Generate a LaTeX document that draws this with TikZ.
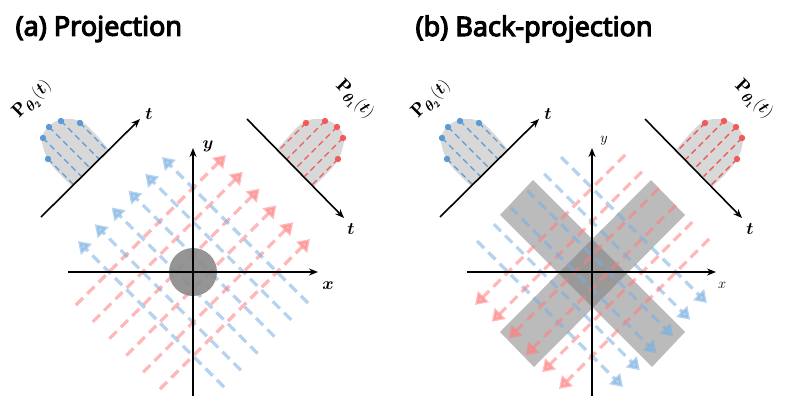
\documentclass[tikz,border=0pt]{standalone}
\usepackage{fontspec}
\usepackage{amsmath,amssymb,bm}
\newfontfamily\titlefont[FakeBold=4]{Noto Sans}
\usetikzlibrary{arrows.meta,calc}
\definecolor{rayblue}{RGB}{120,175,225}
\definecolor{rayred}{RGB}{255,125,125}
\definecolor{dotblue}{RGB}{90,155,213}
\definecolor{dotred}{RGB}{240,90,90}
\definecolor{blobgray}{RGB}{216,216,216}
\definecolor{objgray}{RGB}{140,140,140}
\definecolor{bandgray}{RGB}{120,120,120}
\tikzset{
  axisline/.style={line width=1.6pt,-{Stealth[length=9pt,width=7pt]}},
  taxis/.style={line width=1.6pt,-{Stealth[length=9pt,width=7pt]}},
  rayb/.style={rayblue,opacity=0.55,line width=3.2pt,dash pattern=on 10pt off 6pt,-{Triangle[length=12pt,width=15pt]}},
  rayr/.style={rayred,opacity=0.55,line width=3.2pt,dash pattern=on 10pt off 6pt,-{Triangle[length=12pt,width=15pt]}},
  blobdash/.style={line width=1.4pt,dash pattern=on 6pt off 4pt},
  band/.style={fill=bandgray,fill opacity=0.5},
  title/.style={font=\titlefont\fontsize{27}{30}\selectfont,anchor=west},
  plab/.style={font=\fontsize{19}{22}\selectfont,inner sep=0pt},
  alab/.style={font=\fontsize{18}{20}\selectfont},
}
\newcommand{\myblob}[1]{%
  \fill[blobgray] plot[smooth,tension=0.6] coordinates{(72,186) (50,163) (42,140) (49,126) (64,119) (82,122) (97,136) (109,150)} -- cycle;
  \foreach \a/\b/\c/\d in {49/127/90/168, 43/138/81.5/176.5, 48/159/73.5/184.5, 61/121/99/159, 80/123/107.5/150.5}{
    \draw[#1,blobdash] (\a,\b) -- (\c,\d);
    \fill[#1] (\a,\b) circle (3.2pt);
  }
}
\newcommand{\ptwotext}{$\mathbf{P}_{\bm{\theta}_{\mathbf 2}}(\bm{t})$}
\newcommand{\ponetext}{$\mathbf{P}_{\bm{\theta}_{\mathbf 1}}(\bm{t})$}
\begin{document}
\begin{tikzpicture}[x=1pt,y=-1pt]
\useasboundingbox (0,0) rectangle (789,407);
% titles
\node[title] (ta) at (12,29) {(a) Projection};
\node[title] (tb) at (412,29) {(b) Back-projection};
% ---------- panel (a) ----------
\coordinate (ca) at (193,272);
\foreach \k in {-2.5,-1.5,...,2.5}{
  \draw[rayb] ($(ca)+(\k*16.8+73,-\k*16.8+73)$) -- ($(ca)+(\k*16.8-73,-\k*16.8-73)$);
  \draw[rayr] ($(ca)+(\k*16.8-75,\k*16.8+75)$) -- ($(ca)+(\k*16.8+75,\k*16.8-75)$);
}
\fill[objgray,opacity=0.92] (ca) circle (24);
\draw[axisline] (68,272) -- (318,272);
\draw[axisline] (193,396) -- (193,148);
\node[alab] (xa) at (328,286) {$\bm{x}$};
\node[alab] (ya) at (208,146) {$\bm{y}$};
\begin{scope}
\myblob{dotblue}
\end{scope}
\draw[taxis] (41,217) -- (140,119);
\node[alab] (t1) at (149,114) {$\bm{t}$};
\begin{scope}[shift={(386,0)},xscale=-1]
\myblob{dotred}
\end{scope}
\draw[taxis] (247,119) -- (344,218);
\node[alab] (t2) at (351,229) {$\bm{t}$};
\begin{scope}[transform canvas={rotate around={45:(33,100)}}]
\node[plab] (p2) at (33,100) {\ptwotext};
\end{scope}
\begin{scope}[transform canvas={rotate around={-45:(354,100)}}]
\node[plab] (p1) at (354,100) {\ponetext};
\end{scope}
% ---------- panel (b) ----------
\coordinate (cb) at (592,272);
\fill[band] (500,215) -- (533,180) -- (685,332) -- (652,367) -- cycle;
\fill[band] (651,180) -- (685,215) -- (534,367) -- (500,332) -- cycle;
\foreach \k in {-2.5,-1.5,...,2.5}{
  \draw[rayb] ($(cb)+(\k*16.8-73,-\k*16.8-73)$) -- ($(cb)+(\k*16.8+73,-\k*16.8+73)$);
  \draw[rayr] ($(cb)+(\k*16.8+75,\k*16.8-75)$) -- ($(cb)+(\k*16.8-75,\k*16.8+75)$);
}
\draw[axisline] (467,272) -- (716,272);
\draw[axisline] (592,396) -- (592,148);
\node[font=\fontsize{15}{16}\selectfont] (xb) at (722,285) {$x$};
\node[font=\fontsize{15}{16}\selectfont] (yb) at (604,141) {$y$};
\begin{scope}[shift={(399,0)}]
\myblob{dotblue}
\draw[taxis] (41,217) -- (140,119);
\end{scope}
\node[alab] (t3) at (548,114) {$\bm{t}$};
\begin{scope}[shift={(785,0)},xscale=-1]
\myblob{dotred}
\draw[taxis] (140,119) -- (43,218);
\end{scope}
\node[alab] (t4) at (750,229) {$\bm{t}$};
\begin{scope}[transform canvas={rotate around={45:(432,100)}}]
\node[plab] (p4) at (432,100) {\ptwotext};
\end{scope}
\begin{scope}[transform canvas={rotate around={-45:(753,100)}}]
\node[plab] (p3) at (753,100) {\ponetext};
\end{scope}
\end{tikzpicture}
\end{document}
